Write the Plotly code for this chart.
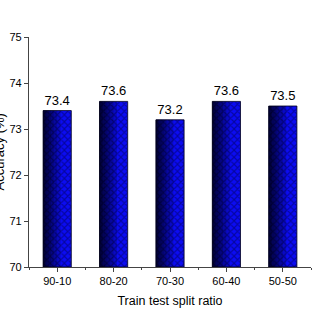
import plotly.graph_objects as go

categories = ["90-10", "80-20", "70-30", "60-40", "50-50"]
accuracy = [73.4, 73.6, 73.2, 73.6, 73.5]
y_ticks = [70, 71, 72, 73, 74, 75]

positions = list(range(len(categories)))
BAR_W = 0.5
fig = go.Figure()
fig.add_trace(go.Bar(
    x=positions, y=[v - 70 for v in accuracy], base=70, width=BAR_W,
    marker=dict(color="#0a0af0", line=dict(color="#000020", width=0.8),
                pattern=dict(shape="x", fgcolor="#000050", bgcolor="#0c0cf2", size=5, solidity=0.4)),
    text=[f"{v:.1f}" for v in accuracy], textposition="outside",
    textfont=dict(size=13, color="black", family="Liberation Sans, Arial"),
    cliponaxis=False, showlegend=False,
))
# dark gradient at left side of each bar
for w in [0.03, 0.06, 0.1, 0.14, 0.19, 0.25, 0.31]:
    fig.add_trace(go.Bar(
        x=positions, y=[v - 70 for v in accuracy], base=70, width=w, offset=-BAR_W / 2,
        marker=dict(color="rgba(0,0,0,0.18)", line=dict(width=0)),
        showlegend=False, hoverinfo="skip",
    ))

fig.update_layout(
    barmode="overlay", width=320, height=320,
    margin=dict(l=25, r=9, t=37, b=53),
    plot_bgcolor="white", paper_bgcolor="white",
    font=dict(family="Liberation Sans, Arial", color="black"),
    xaxis=dict(type="linear", range=[-0.5, 4.5], tickvals=positions, ticktext=categories,
               showline=True, linecolor="#444", linewidth=1.3, showgrid=False, zeroline=False,
               ticks="outside", ticklen=4, tickcolor="#444", tickfont=dict(size=11),
               minor=dict(ticks="outside", ticklen=2, tickcolor="#444", dtick=1, tick0=-0.5, showgrid=False),
               title=dict(text="Train test split ratio", font=dict(size=12.5), standoff=9)),
    yaxis=dict(range=[70, 75], tickvals=y_ticks, showline=True, linecolor="#444", linewidth=1.3,
               ticks="outside", ticklen=4, tickcolor="#444", tickfont=dict(size=11),
               showgrid=False, zeroline=False),
    annotations=[dict(text="Accuracy (%)", textangle=-90, xref="paper", yref="paper",
                      x=-0.105, y=0.5, xanchor="center", yanchor="middle", showarrow=False,
                      font=dict(size=13, color="black"))],
)
fig.write_html("out.html")
